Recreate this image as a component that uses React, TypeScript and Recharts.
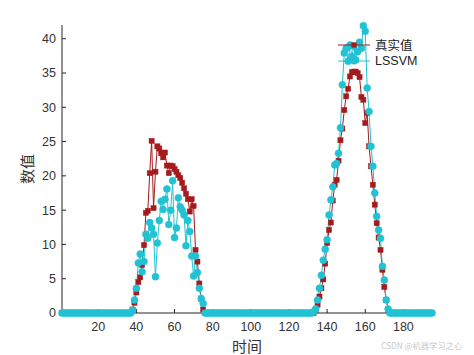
import React from "react";
import { LineChart, Line, XAxis, YAxis, Legend } from "recharts";

const RED = "#a51b1d";
const CYAN = "#21c2d4";
const AXIS = "#262626";

// whole time axis runs 1..195, values are zero outside the two bursts
const timeCount = 195;
const xTicks = [20, 40, 60, 80, 100, 120, 140, 160, 180];
const yTicks = [0, 5, 10, 15, 20, 25, 30, 35, 40];

// first burst, starting at t = 37
const burstAStart = 37;
const trueA = [
  0, 0.5, 1.5, 3, 4.5, 5.2, 7, 9.9, 14.6, 14.9, 20.4, 25.1, 15.3, 20.6, 24.3,
  24.0, 23.3, 22.7, 23.4, 21.5, 20.4, 21.5, 21.4, 21.0, 20.6, 20.1, 19.7, 19.0,
  18.2, 17.4, 16.6, 14.8, 16.6, 15.6, 9.2, 7.5, 4.3, 2.1, 0.5,
];
const predA = [
  0, 0.4, 1.9, 3.6, 7.3, 8.6, 6.0, 7.5, 11.5, 10.9, 13.2, 12.4, 11.5, 5.3, 10.2,
  13.5, 16.3, 15.1, 16.6, 18.1, 12.9, 15.0, 19.3, 11.0, 12.4, 16.8, 15.5, 15.0,
  14.3, 9.8, 13.5, 11.9, 8.3, 5.4, 8.3, 5.9, 3.6, 2.1, 1.4, 0,
];

// second burst, starting at t = 133
const burstBStart = 133;
const trueB = [
  0, 0.4, 1.2, 2.4, 3.6, 4.9, 7.2, 10.2, 12.1, 13.2, 16.4, 18.7, 19.4, 22.2,
  25.2, 26.9, 29.6, 31.6, 32.7, 34.5, 35.1, 35.2, 35.2, 35.0, 34.4, 31.5, 31.1,
  27.7, 29.2, 24.3, 21.4, 18.7, 15.8, 13.1, 11.0, 9.2, 6.3, 3.8, 1.9, 0.5, 0,
];
const predB = [
  0.2, 0.6, 1.9, 3.6, 5.5, 7.7, 9.3, 10.7, 14.3, 16.5, 18.4, 21.6, 21.8, 23.3,
  27.0, 33.3, 37.9, 38.6, 36.7, 39.1, 37.4, 38.9, 36.9, 38.1, 39.5, 38.6, 41.9,
  41.1, 32.8, 29.4, 24.3, 21.4, 17.5, 14.1, 12.1, 10.9, 6.8, 4.8, 1.9, 0.6, 0,
];

function pick(t: number, a: number[], aStart: number, b: number[], bStart: number) {
  if (t >= aStart && t < aStart + a.length) return a[t - aStart];
  if (t >= bStart && t < bStart + b.length) return b[t - bStart];
  return 0;
}

const data = Array.from({ length: timeCount }, (_, i) => {
  const t = i + 1;
  return {
    t,
    actual: pick(t, trueA, burstAStart, trueB, burstBStart),
    lssvm: pick(t, predA, burstAStart, predB, burstBStart),
  };
});

const SquareDot = (props: any) => {
  const { cx, cy, index } = props;
  if (cx == null || cy == null) return <g key={index} />;
  return <rect key={index} x={cx - 2.6} y={cy - 2.6} width={5.2} height={5.2} fill={RED} stroke={RED} strokeWidth={0.4} />;
};

const tickStyle = { fill: "#333", fontSize: 12.5, fontFamily: "'Liberation Sans', Arial, sans-serif" };

const LegendBox = () => (
  <div style={{ fontFamily: "'Noto Sans CJK SC', 'Liberation Sans', sans-serif", fontSize: 12.5, color: "#222", lineHeight: "16px" }}>
    <div style={{ display: "flex", alignItems: "center", height: 16 }}>
      <svg width={36} height={16}>
        <line x1={2} y1={8} x2={34} y2={8} stroke={RED} strokeWidth={1} />
        <rect x={15.4} y={5.4} width={5.2} height={5.2} fill={RED} />
      </svg>
      <span style={{ marginLeft: 3 }}>真实值</span>
    </div>
    <div style={{ display: "flex", alignItems: "center", height: 16 }}>
      <svg width={36} height={16}>
        <line x1={2} y1={8} x2={34} y2={8} stroke={CYAN} strokeWidth={1} />
        <circle cx={18} cy={8} r={3.5} fill={CYAN} />
      </svg>
      <span style={{ marginLeft: 3, fontFamily: "'Liberation Sans', Arial, sans-serif" }}>LSSVM</span>
    </div>
  </div>
);

export default function App() {
  return (
    <div style={{ position: "absolute", left: 0, top: 0, width: 474, height: 355, background: "#fff", overflow: "hidden" }}>
      <LineChart width={474} height={355} data={data} margin={{ top: 25, right: 42, left: 0, bottom: 0 }}>
        <XAxis
          dataKey="t"
          type="number"
          domain={[1, 195]}
          ticks={xTicks}
          height={42}
          tick={tickStyle}
          tickSize={-4}
          tickMargin={13}
          axisLine={{ stroke: AXIS }}
          tickLine={{ stroke: AXIS }}
          label={{
            content: () => (
              <text x={247} y={352} textAnchor="middle" fontSize={15} fill="#333" fontFamily="'Noto Sans CJK SC', sans-serif">
                时间
              </text>
            ),
          }}
        />
        <YAxis
          type="number"
          domain={[0, 42]}
          ticks={yTicks}
          width={62}
          tick={tickStyle}
          tickSize={-4}
          tickMargin={10}
          axisLine={{ stroke: AXIS }}
          tickLine={{ stroke: AXIS }}
          label={{
            content: () => (
              <text x={33} y={169} textAnchor="middle" fontSize={15} fill="#333" fontFamily="'Noto Sans CJK SC', sans-serif" transform="rotate(-90 33 169)">
                数值
              </text>
            ),
          }}
        />
        <Legend
          layout="vertical"
          align="center"
          verticalAlign="middle"
          content={() => <LegendBox />}
          wrapperStyle={{ left: 336, top: 37, width: 110 }}
        />
        <Line
          type="linear"
          dataKey="actual"
          name="真实值"
          stroke={RED}
          strokeWidth={1}
          dot={SquareDot}
          activeDot={false}
          isAnimationActive={false}
        />
        <Line
          type="linear"
          dataKey="lssvm"
          name="LSSVM"
          stroke={CYAN}
          strokeWidth={1}
          dot={{ r: 3.5, fill: CYAN, stroke: CYAN, strokeWidth: 0.5 }}
          activeDot={false}
          isAnimationActive={false}
        />
      </LineChart>
      <div
        style={{
          position: "absolute",
          left: 381,
          top: 339,
          fontSize: 8.3,
          color: "#c9c9c9",
          fontFamily: "'Noto Sans CJK SC', sans-serif",
          whiteSpace: "nowrap",
        }}
      >
        CSDN @机器学习之心
      </div>
    </div>
  );
}
